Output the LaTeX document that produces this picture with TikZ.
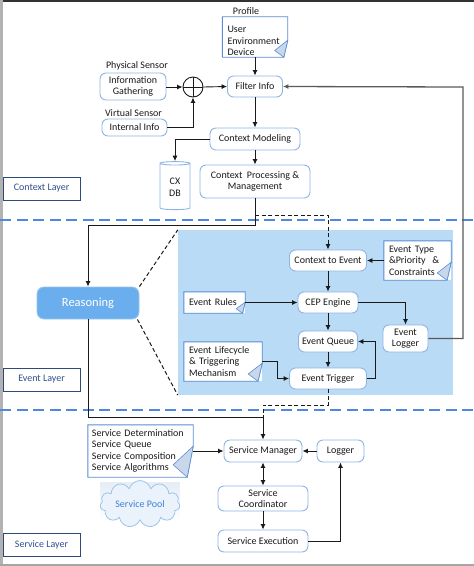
\documentclass[tikz,border=0pt]{standalone}
\usepackage{fontspec}
\setmainfont{Carlito}
\usetikzlibrary{arrows.meta,shapes.geometric,shapes.symbols,calc}
\definecolor{boxbd}{HTML}{8EB4E3}
\definecolor{notebd}{HTML}{5B8DD6}
\definecolor{flap}{HTML}{C9D7EA}
\definecolor{navy}{HTML}{2E4A7D}
\definecolor{layertext}{HTML}{2F4F8F}
\definecolor{regionc}{HTML}{BADBF5}
\definecolor{reason}{HTML}{6AAEEE}
\definecolor{sepblue}{HTML}{4F88E0}
\definecolor{linec}{HTML}{1A1A1A}
\definecolor{cloudfill}{HTML}{EAF3FC}
\definecolor{cloudbd}{HTML}{9DC3EA}
\definecolor{cloudtext}{HTML}{3F7FD6}
\definecolor{poolbg}{HTML}{E6EDF5}
\tikzset{
  base/.style={font=\fontsize{10}{11.5}\selectfont, text=black!90},
  box/.style={base, draw=boxbd, line width=0.9pt, fill=white, rounded corners=6pt, align=center, inner sep=1pt},
  note/.style={base, fill=white, align=left, inner xsep=5pt, inner ysep=1pt, text width=#1},
  layer/.style={base, draw=navy, line width=0.9pt, fill=white, text=layertext, minimum width=77pt, minimum height=23pt, inner sep=0pt},
  arr/.style={draw=linec, line width=0.9pt, -{Latex[length=5.5pt,width=5pt]}},
  conn/.style={draw=linec, line width=0.9pt},
  blackdash/.style={draw=linec, line width=1pt, dash pattern=on 4pt off 2.5pt},
  sepline/.style={draw=sepblue, line width=2pt, dash pattern=on 11pt off 5.5pt},
  lbl/.style={base, inner sep=0pt},
}
\newcommand\notedeco[3]{%
  \draw[draw=notebd, line width=0.9pt] (#1.south west) -- (#1.north west) -- (#1.north east) -- ($(#1.south east)+(0,-#3)$) -- ($(#1.south east)+(-0.3*#2,0)$) -- cycle;
  \filldraw[fill=flap, draw=notebd, line width=0.6pt] ($(#1.south east)+(0,-#3)$) -- ($(#1.south east)+(-0.3*#2,0)$) -- ($(#1.south east)+(-#2,-0.4*#3)$) -- cycle;
}
\begin{document}
\begin{tikzpicture}[x=1pt,y=-1pt]
\useasboundingbox (0,0) rectangle (474,566);
% frame
\fill[black!80] (0,0) rectangle (474,2);
\fill[black!30] (0,0) rectangle (2.5,566);
\fill[black!35] (0,563.5) rectangle (474,566);

% event region
\node[fill=regionc, draw=none, inner sep=0pt, minimum width=275pt, minimum height=165pt] (region) at (315.5,312.5) {};

% separators
\draw[sepline] (0,220) -- (474,220);
\draw[sepline] (0,410) -- (474,410);

% context layer
\node[lbl] (lprofile) at (246,11) {Profile};
\node[note=55pt, minimum height=40pt] (profile) at (255,37) {\rule{0pt}{15pt}User\\Environment\\Device};
\notedeco{profile}{13}{17}
\node[lbl] (lphys) at (137,66) {Physical Sensor};
\node[box, minimum width=66pt, minimum height=27pt] (infog) at (133,86.5) {Information\\Gathering};
\node[lbl] (lvirt) at (133.5,113) {Virtual Sensor};
\node[box, minimum width=65pt, minimum height=17pt] (internal) at (134.5,127.5) {Internal Info};
\node[circle, draw=linec, line width=0.9pt, minimum size=20pt, inner sep=0pt, fill=white] (xor) at (193,87) {};
\draw[conn] (xor.north) -- (xor.south) (xor.west) -- (xor.east);
\node[box, minimum width=55pt, minimum height=21pt] (filter) at (255,86.5) {Filter Info};
\node[box, minimum width=90pt, minimum height=22pt] (cm) at (255,139) {Context Modeling};
\node[box, minimum width=110pt, minimum height=33pt] (cpm) at (255,181.5) {Context\ \ Processing \&\\Management};
\node[cylinder, shape border rotate=90, aspect=0.25, draw=boxbd, line width=0.9pt, fill=white, minimum width=30pt, minimum height=48pt, base, align=center, inner sep=1pt] (cxdb) at (175,187) {CX\\DB};
\node[layer] (lctx) at (41.5,188.5) {Context Layer};

% event layer
\node[box, draw=reason!70!white, fill=reason, text=white, rounded corners=7pt, minimum width=102pt, minimum height=32pt, font=\fontsize{12.5}{14}\selectfont] (reason) at (88,303) {Reasoning};
\node[box, minimum width=77pt, minimum height=21pt] (c2e) at (328,260.5) {Context to Event};
\node[note=57pt, minimum height=39pt] (evtype) at (417.5,260.5) {Event Type\\\&Priority\ \ \&\\Constraints};
\notedeco{evtype}{14}{18}
\node[box, minimum width=60pt, minimum height=21pt] (cep) at (328,302.5) {CEP Engine};
\node[note=51pt, minimum height=21pt] (evrules) at (214.5,302.5) {Event Rules};
\notedeco{evrules}{9}{11}
\node[box, minimum width=45pt, minimum height=27pt] (elogger) at (405.5,338.5) {Event\\Logger};
\node[box, minimum width=59pt, minimum height=21pt] (equeue) at (328,341.5) {Event Queue};
\node[note=68pt, minimum height=39pt] (lifecycle) at (223,361.5) {Event Lifecycle\\\& Triggering\\Mechanism};
\notedeco{lifecycle}{14}{18}
\node[box, minimum width=77pt, minimum height=21pt] (etrig) at (328,378.5) {Event Trigger};
\node[layer] (levt) at (41.5,379.5) {Event Layer};

% service layer
\node[note=97pt, inner xsep=4pt, minimum height=52pt] (svc) at (140.5,451) {Service Determination\\Service Queue\\Service Composition\\Service Algorithms};
\notedeco{svc}{20}{31}
\node[box, minimum width=78pt, minimum height=22pt] (sm) at (263,451) {Service Manager};
\node[box, minimum width=47pt, minimum height=22pt] (logger) at (340.5,451) {Logger};
\node[box, minimum width=90pt, minimum height=25pt] (sc) at (263,498.5) {Service\\Coordinator};
\node[box, minimum width=90pt, minimum height=22pt] (se) at (263,541) {Service Execution};
\shade[top color=poolbg, bottom color=white] (100,482) rectangle (180,522);
\node[cloud, cloud puffs=11, aspect=2.1, draw=cloudbd, line width=0.8pt, fill=cloudfill, text=cloudtext, minimum width=80pt, minimum height=40pt, inner sep=0pt, font=\fontsize{10}{11.5}\selectfont] (pool) at (140,504) {Service Pool};
\node[layer] (lsvc) at (41.5,544.5) {Service Layer};

% coordinates
\coordinate (j1) at (88,225);
\coordinate (j2) at (255,215);
\coordinate (j3) at (263,417);
\coordinate (j4) at (263,405);
\coordinate (j5) at (463,87);

% connectors: context
\draw[arr] (infog.east |- xor.west) -- (xor.west);
\draw[arr] (internal.east) -| (xor.south);
\draw[arr] (xor.east) -- (filter.west);
\draw[arr] (profile.south) -- (filter.north);
\draw[arr] (filter.south) -- (cm.north);
\draw[arr] (cm.west) -| (cxdb.north);
\draw[arr] (cm.south) -- (cpm.north);
\draw[arr] (cpm.south) |- (j1) -- (reason.north);
\draw[blackdash, -{Latex[length=5.5pt,width=5pt]}] (j2) -| (c2e.north);

% reasoning zoom lines
\draw[blackdash] (reason.north east) -- (region.north west);
\draw[blackdash] ([xshift=-2pt]reason.south east) -- (region.south west);

% event connectors
\draw[arr] (evtype.west) -- (c2e.east);
\draw[arr] (c2e.south) -- (cep.north);
\draw[arr] (evrules.east) -- (cep.west);
\draw[arr] (cep.east) -| (elogger.north);
\draw[arr] (cep.south) -- (equeue.north);
\draw[arr] (equeue.south) -- (etrig.north);
\draw[arr] (lifecycle.east) -- ++(15,0) |- (etrig.west);
\draw[arr] (etrig.east) -- ++(8,0) |- (equeue.east);
\draw[arr, draw=black!65, line width=1.3pt] (elogger.east) -| (j5) -- (filter.east);

% to service layer
\draw[blackdash] (etrig.south) |- (j4) -- (j3);
\draw[arr] (reason.south) |- (j3) -- (sm.north);

% service connectors
\draw[arr] (svc.east) -- (sm.west);
\draw[arr] (logger.west) -- (sm.east);
\draw[arr, {Latex[length=5.5pt,width=5pt]}-{Latex[length=5.5pt,width=5pt]}] (sm.south) -- (sc.north);
\draw[arr] (sc.south) -- (se.north);
\draw[arr] (se.east) -| (logger.south);
\end{tikzpicture}
\end{document}
